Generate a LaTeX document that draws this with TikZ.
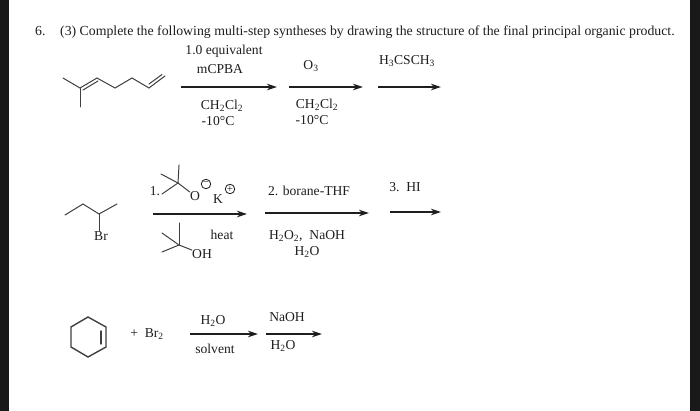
\documentclass[tikz,border=0pt]{standalone}
\usepackage{fontspec}
\setmainfont{Liberation Serif}
\usepackage{tikz}
\usetikzlibrary{arrows.meta}
\usetikzlibrary{positioning}
\newcommand{\lowidx}[1]{\textsubscript{#1}}
\definecolor{inkgrey}{HTML}{1E1E1E}
\definecolor{barblack}{HTML}{191919}

\begin{document}
\begin{tikzpicture}[x=1pt,y=-1pt,
    chemtext/.style={text=inkgrey, inner sep=0pt, font=\fontsize{13.6}{15}\selectfont},
    headtext/.style={text=inkgrey, inner sep=0pt, anchor=base west, font=\fontsize{13.8}{15}\selectfont},
    bond/.style={draw=inkgrey!85!white, line width=1pt, line cap=round},
    rxnarrow/.style={draw=inkgrey, line width=1.1pt, -{Stealth[length=10pt,width=6.5pt]}},
    chargenode/.style={circle, draw=inkgrey, line width=0.8pt, inner sep=0pt, minimum size=9.5pt, text=inkgrey, font=\fontsize{11}{11}\selectfont}]
    \useasboundingbox (0,0) rectangle (700,411);
    \fill[white] (0,0) rectangle (700,411);
    \fill[barblack] (0,0) rectangle (9,411);
    \fill[barblack] (690,0) rectangle (700,411);
    %Heading
    \node[headtext] (qnum)  at (35,36) {6.};
    \node[headtext] (qtext) at (60,36) {(3) Complete the following multi-step syntheses by drawing the structure of the final principal organic product.};
    %First molecule
    \coordinate (dieneA) at (63,78);
    \coordinate (dieneB) at (80,88);
    \coordinate (dieneC) at (80,107);
    \coordinate (dieneD) at (97,78);
    \coordinate (dieneE) at (115,88);
    \coordinate (dieneF) at (132,78);
    \coordinate (dieneG) at (149,88);
    \coordinate (dieneH) at (165,76);
    \coordinate (dieneBb) at (83,90);
    \coordinate (dieneDb) at (98,81);
    \coordinate (dieneGb) at (149,84);
    \coordinate (dieneHb) at (162,74.5);
    \draw[bond] (dieneA) -- (dieneB);
    \draw[bond] (dieneB) -- (dieneC);
    \draw[bond] (dieneB) -- (dieneD);
    \draw[bond] (dieneBb) -- (dieneDb);
    \draw[bond] (dieneD) -- (dieneE);
    \draw[bond] (dieneE) -- (dieneF);
    \draw[bond] (dieneF) -- (dieneG);
    \draw[bond] (dieneG) -- (dieneH);
    \draw[bond] (dieneGb) -- (dieneHb);
    %First row
    \node[chemtext] (equiv)  at (224,51)  {1.0 equivalent};
    \node[chemtext] (mcpba)  at (220,69)  {mCPBA};
    \node[chemtext] (ozone)  at (311,66)  {O\lowidx{3}};
    \node[chemtext] (dms)    at (407,61)  {H\lowidx{3}CSCH\lowidx{3}};
    \node[chemtext] (dcmA)   at (222,106) {CH\lowidx{2}Cl\lowidx{2}};
    \node[chemtext] (coldA)  at (218,121) {-10°C};
    \node[chemtext] (dcmB)   at (317,105) {CH\lowidx{2}Cl\lowidx{2}};
    \node[chemtext] (coldB)  at (312,120) {-10°C};
    \coordinate (arrAs) at (181,87);
    \coordinate (arrAe) at (277,87);
    \coordinate (arrBs) at (289,87);
    \coordinate (arrBe) at (363,87);
    \coordinate (arrCs) at (378,87);
    \coordinate (arrCe) at (441,87);
    \draw[rxnarrow] (arrAs) -- (arrAe);
    \draw[rxnarrow] (arrBs) -- (arrBe);
    \draw[rxnarrow] (arrCs) -- (arrCe);
    %Second molecule
    \coordinate (bromoA) at (65,215);
    \coordinate (bromoB) at (83,204);
    \coordinate (bromoC) at (99,214);
    \coordinate (bromoD) at (117,204);
    \node[chemtext] (bromine) at (101,236) {Br};
    \draw[bond] (bromoA) -- (bromoB);
    \draw[bond] (bromoB) -- (bromoC);
    \draw[bond] (bromoC) -- (bromoD);
    \draw[bond] (bromoC) -- (bromine.north -| bromoC);
    %Base and solvent
    \node[chemtext] (stepA) at (155,191) {1.};
    \coordinate (butoxC) at (178,183);
    \coordinate (butoxA) at (179,165);
    \coordinate (butoxB) at (161,174);
    \coordinate (butoxD) at (162,194);
    \node[chemtext] (oxygen) at (195,196) {O};
    \node[chargenode] (minus) at (206,184) {−};
    \node[chemtext] (potass) at (218,199) {K};
    \node[chargenode] (plus) at (230,189) {+};
    \draw[bond] (butoxC) -- (butoxA);
    \draw[bond] (butoxC) -- (butoxB);
    \draw[bond] (butoxC) -- (butoxD);
    \draw[bond] (butoxC) -- (oxygen);
    \coordinate (butolC) at (179,245);
    \coordinate (butolA) at (179,223);
    \coordinate (butolB) at (162,233);
    \coordinate (butolD) at (162,252);
    \node[chemtext] (hydroxy) at (202,254) {OH};
    \node[chemtext] (heat) at (222,235) {heat};
    \draw[bond] (butolC) -- (butolA);
    \draw[bond] (butolC) -- (butolB);
    \draw[bond] (butolC) -- (butolD);
    \draw[bond] (butolC) -- (hydroxy);
    %Second row
    \node[chemtext] (borane)   at (309,191) {2. borane-THF};
    \node[chemtext] (peroxide) at (307,236) {H\lowidx{2}O\lowidx{2},\ \ NaOH};
    \node[chemtext] (waterA)   at (307,252) {H\lowidx{2}O};
    \node[chemtext] (acid)     at (405,187) {3.\ \ HI};
    \coordinate (arrDs) at (153,214);
    \coordinate (arrDe) at (247,214);
    \coordinate (arrEs) at (265,213);
    \coordinate (arrEe) at (369,213);
    \coordinate (arrFs) at (390,212);
    \coordinate (arrFe) at (441,212);
    \draw[rxnarrow] (arrDs) -- (arrDe);
    \draw[rxnarrow] (arrEs) -- (arrEe);
    \draw[rxnarrow] (arrFs) -- (arrFe);
    %Third molecule
    \coordinate (ringA) at (88,317);
    \coordinate (ringB) at (106,327);
    \coordinate (ringC) at (106,347);
    \coordinate (ringD) at (88,357);
    \coordinate (ringE) at (71,347);
    \coordinate (ringF) at (71,327);
    \coordinate (ringBb) at (101,331);
    \coordinate (ringCb) at (101,344);
    \draw[bond, line width=1.4pt] (ringA) -- (ringB) -- (ringC) -- (ringD) -- (ringE) -- (ringF) -- cycle;
    \draw[bond, line width=1.4pt] (ringBb) -- (ringCb);
    %Third row
    \node[chemtext] (plusbr) at (147,334) {+\ \ Br\lowidx{2}};
    \node[chemtext] (waterB) at (213,321) {H\lowidx{2}O};
    \node[chemtext] (solv)   at (215,349) {solvent};
    \node[chemtext] (soda)   at (287,317) {NaOH};
    \node[chemtext] (waterC) at (283,346) {H\lowidx{2}O};
    \coordinate (arrGs) at (190,334);
    \coordinate (arrGe) at (258,334);
    \coordinate (arrHs) at (266,334);
    \coordinate (arrHe) at (322,334);
    \draw[rxnarrow] (arrGs) -- (arrGe);
    \draw[rxnarrow] (arrHs) -- (arrHe);
\end{tikzpicture}
\end{document}
